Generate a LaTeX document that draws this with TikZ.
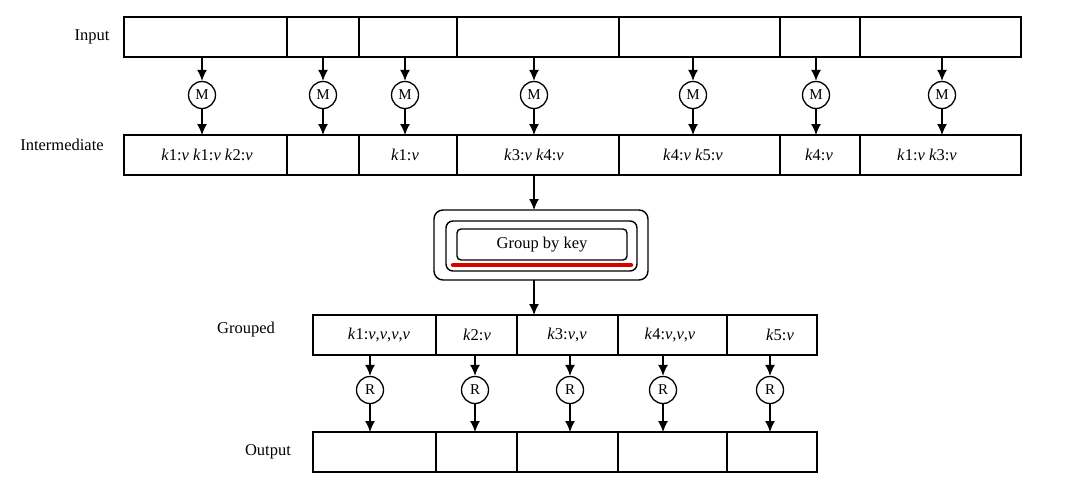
\documentclass[tikz,border=0pt]{standalone}
\usepackage{fontspec}
\setmainfont{Liberation Serif}
\usetikzlibrary{arrows.meta}
\begin{document}
\begin{tikzpicture}[x=1pt,y=-1pt,font=\fontsize{16.5}{18}\selectfont,
  cell/.style={draw,line width=1.4pt,minimum height=40pt,inner sep=0pt},
  op/.style={draw,circle,line width=1.3pt,minimum size=27pt,inner sep=0pt,font=\fontsize{15}{17}\selectfont},
  arr/.style={-{Latex[length=11pt,width=10pt]},line width=1.3pt}]
\useasboundingbox (0,0) rectangle (1084,488);
\foreach \a/\b/\n in {124/287/1,287/359/2,359/457/3,457/619/4,619/780/5,780/860/6,860/1021/7}{
  \node[cell,minimum width={\b-\a}] (in\n) at ({(\a+\b)/2},37) {};
  \node[cell,minimum width={\b-\a}] (im\n) at ({(\a+\b)/2},155) {};
}
\foreach \x/\n in {202/1,323/2,405/3,534/4,693/5,816/6,942/7}{
  \node[op] (m\n) at (\x,95) {M};
  \coordinate (mt\n) at (\x,56);
  \coordinate (mb\n) at (\x,135);
  \draw[arr] (mt\n) -- (m\n);
  \draw[arr] (m\n) -- (mb\n);
}
\node at (207,155) {\textit{k}1:\textit{v} \textit{k}1:\textit{v} \textit{k}2:\textit{v}};
\node at (405,155) {\textit{k}1:\textit{v}};
\node at (534,155) {\textit{k}3:\textit{v} \textit{k}4:\textit{v}};
\node at (693,155) {\textit{k}4:\textit{v} \textit{k}5:\textit{v}};
\node at (819,155) {\textit{k}4:\textit{v}};
\node at (927,155) {\textit{k}1:\textit{v} \textit{k}3:\textit{v}};
\node at (92,37) {Input};
\node at (62,145) {Intermediate};
\node at (246,330) {Grouped};
\node at (268,452) {Output};
\node[draw,line width=1.4pt,rounded corners=9pt,minimum width=214pt,minimum height=70pt] (gout) at (541,245) {};
\node[draw,line width=1.4pt,rounded corners=7pt,minimum width=191pt,minimum height=50pt] (gmid) at (541.5,246) {};
\node[draw,line width=1.4pt,rounded corners=4pt,minimum width=170pt,minimum height=31pt] (gin) at (542,244.5) {Group by key};
\draw[red!85!black,line width=4.5pt,line cap=round] (453,265) -- (631,265);
\coordinate (a1) at (534,175);
\coordinate (a2) at (534,210);
\coordinate (a3) at (534,280);
\coordinate (a4) at (534,315);
\draw[arr] (a1) -- (a2);
\draw[arr] (a3) -- (a4);
\foreach \a/\b/\n in {313/436/1,436/517/2,517/618/3,618/727/4,727/817/5}{
  \node[cell,minimum width={\b-\a}] (g\n) at ({(\a+\b)/2},335) {};
  \node[cell,minimum width={\b-\a}] (o\n) at ({(\a+\b)/2},452) {};
}
\node at (379,335) {\textit{k}1:\textit{v},\textit{v},\textit{v},\textit{v}};
\node at (477,335) {\textit{k}2:\textit{v}};
\node at (567,335) {\textit{k}3:\textit{v},\textit{v}};
\node at (670,335) {\textit{k}4:\textit{v},\textit{v},\textit{v}};
\node at (780,335) {\textit{k}5:\textit{v}};
\foreach \x/\n in {370/1,475/2,570/3,663/4,770/5}{
  \node[op] (r\n) at (\x,390) {R};
  \coordinate (rt\n) at (\x,355);
  \coordinate (rb\n) at (\x,432);
  \draw[arr] (rt\n) -- (r\n);
  \draw[arr] (r\n) -- (rb\n);
}
\end{tikzpicture}
\end{document}
